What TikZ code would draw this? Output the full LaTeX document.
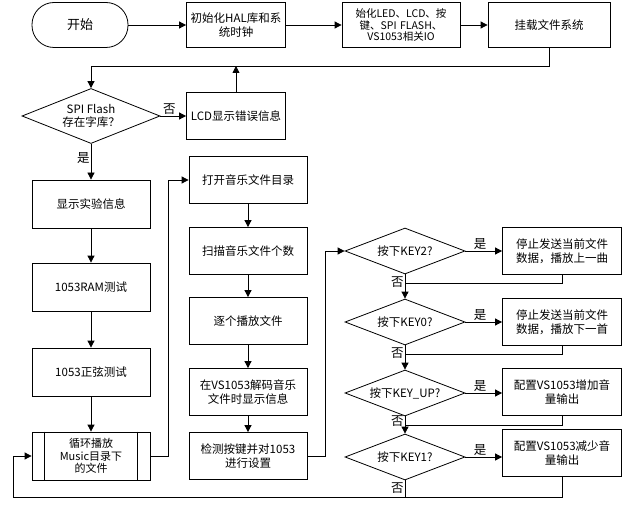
\documentclass[tikz,border=0pt]{standalone}
\usepackage{fontspec}
\setmainfont{Noto Sans CJK SC}
\usetikzlibrary{shapes.geometric,arrows.meta}
\begin{document}
\fontsize{11.5}{13.5}\selectfont
\begin{tikzpicture}[x=1pt,y=-1pt,
  box/.style={draw,thick,align=center,inner sep=1pt,line width=0.8pt},
  dia/.style={draw,diamond,aspect=2.5,inner sep=0pt,line width=0.8pt,align=center},
  ar/.style={-{Triangle[length=7pt,width=7pt]},line width=0.8pt},
  ln/.style={line width=0.8pt},
  lab/.style={inner sep=1pt,font=\fontsize{12.5}{14}\selectfont}]
\useasboundingbox (0,0) rectangle (624,516);
% row 1
\node[box,rounded corners=22pt,minimum width=96pt,minimum height=45pt,font=\fontsize{13}{15}\selectfont] (start) at (80,25) {开始};
\node[box,minimum width=99pt,minimum height=45pt,text width=96pt] (hal) at (236,25) {初始化HAL库和系\\统时钟};
\node[box,minimum width=118pt,minimum height=45pt,text width=116pt,font=\fontsize{10.5}{11.5}\selectfont] (init) at (401,25) {始化LED、LCD、按\\键、SPI FLASH、\\VS1053相关IO};
\node[box,minimum width=122pt,minimum height=45pt] (mount) at (549,25) {挂载文件系统};
\draw[ar] (start) -- (hal);
\draw[ar] (hal) -- (init);
\draw[ar] (init) -- (mount);
% check
\node[dia,minimum width=138pt,minimum height=55pt] (spi) at (91,116) {SPI Flash\\存在字库？};
\node[box,minimum width=99pt,minimum height=47pt] (lcd) at (236,116) {LCD显示错误信息};
\coordinate (j1) at (91,66);
\draw[ar] (mount.south) |- (j1) -- (spi.north);
\draw[ar] (lcd.north) -- (lcd.north |- j1);
\draw[ar] (spi) -- node[lab,above,pos=0.35]{否} (lcd);
% column 1
\node[box,minimum width=118pt,minimum height=48pt] (show) at (91,204) {显示实验信息};
\node[box,minimum width=118pt,minimum height=48pt] (ram) at (91,287) {1053RAM测试};
\node[box,minimum width=118pt,minimum height=48pt] (sin) at (91,372) {1053正弦测试};
\node[box,minimum width=118pt,minimum height=48pt,text width=86pt,font=\fontsize{11}{12.5}\selectfont] (loop) at (91,456) {循环播放\\Music目录下\\的文件};
\draw[ln] ([xshift=13pt]loop.north west) -- ([xshift=13pt]loop.south west);
\draw[ln] ([xshift=-13pt]loop.north east) -- ([xshift=-13pt]loop.south east);
\draw[ar] (spi) -- node[lab,left,pos=0.4]{是} (show);
\draw[ar] (show) -- (ram);
\draw[ar] (ram) -- (sin);
\draw[ar] (sin) -- (loop);
% column 2
\node[box,minimum width=118pt,minimum height=47pt] (open) at (248,180) {打开音乐文件目录};
\node[box,minimum width=118pt,minimum height=47pt] (scan) at (248,251) {扫描音乐文件个数};
\node[box,minimum width=118pt,minimum height=47pt] (play) at (248,321) {逐个播放文件};
\node[box,minimum width=118pt,minimum height=47pt,text width=114pt] (dec) at (248,392) {在VS1053解码音乐\\文件时显示信息};
\node[box,minimum width=118pt,minimum height=47pt,text width=114pt] (det) at (248,456) {检测按键并对1053\\进行设置};
\draw[ar] (loop.east) -- ++(18,0) |- (open.west);
\draw[ar] (open) -- (scan);
\draw[ar] (scan) -- (play);
\draw[ar] (play) -- (dec);
\draw[ar] (dec) -- (det);
% column 3
\node[dia,minimum width=120pt,minimum height=46pt] (k2) at (405,251) {按下KEY2?};
\node[dia,minimum width=120pt,minimum height=46pt] (k0) at (405,322) {按下KEY0?};
\node[dia,minimum width=120pt,minimum height=46pt] (ku) at (405,393) {按下KEY\_UP?};
\node[dia,minimum width=120pt,minimum height=46pt] (k1) at (405,457) {按下KEY1?};
\node[box,minimum width=119pt,minimum height=47pt,text width=114pt] (b2) at (562,251) {停止发送当前文件\\数据，播放上一曲};
\node[box,minimum width=119pt,minimum height=47pt,text width=114pt] (b0) at (562,322) {停止发送当前文件\\数据，播放下一首};
\node[box,minimum width=119pt,minimum height=47pt,text width=114pt] (bu) at (562,392) {配置VS1053增加音\\量输出};
\node[box,minimum width=119pt,minimum height=47pt,text width=114pt] (b1) at (562,453) {配置VS1053减少音\\量输出};
\draw[ar] (det.east) -- ++(18,0) |- (k2.west);
\foreach \d/\b in {k2/b2,k0/b0,ku/bu,k1/b1}
  \draw[ar] (\d.east) -- node[lab,above,pos=0.4]{是} (\d.east -| \b.west);
\draw[ar] (k2.south) -- node[lab,left,pos=0.3]{否} (k0.north);
\draw[ar] (k0.south) -- node[lab,left,pos=0.3]{否} (ku.north);
\draw[ar] (ku.south) -- node[lab,left,pos=0.3]{否} (k1.north);
\draw[ln] (b2.south) |- (405,283);
\draw[ln] (b0.south) |- (405,354);
\draw[ln] (bu.south) |- (405,425);
\coordinate (bot) at (405,497);
\draw[ln] (b1.south) |- (bot);
\draw[ln] (k1.south) -- node[lab,left,pos=0.45]{否} (bot);
\draw[ar] (bot) -- (13,497) |- (loop.west);
\end{tikzpicture}
\end{document}
